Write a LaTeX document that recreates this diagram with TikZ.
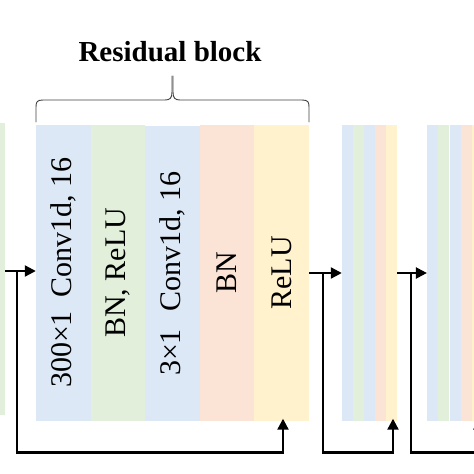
\documentclass[tikz,border=0pt]{standalone}
\usepackage{fontspec}
\setmainfont{Liberation Serif}
\usetikzlibrary{arrows.meta,calc}
\definecolor{cblue}{HTML}{DCE8F6}
\definecolor{cgreen}{HTML}{E2EFDA}
\definecolor{corange}{HTML}{FBE4D6}
\definecolor{cyellow}{HTML}{FFF2CC}
\begin{document}
\begin{tikzpicture}[x=1pt,y=-1pt,
  strip/.style={rectangle, inner sep=0pt, draw=none, rotate=90,
    minimum width=295.5pt, font=\fontsize{30}{31}\selectfont},
  bigstrip/.style={strip, minimum height=54.6pt},
  thinstrip/.style={strip, minimum height=11pt},
  arr/.style={line width=2.2pt, -{Triangle[length=11pt,width=11pt]}},
  bracestyle/.style={line width=0.9pt, draw=black!75, line cap=round}]
\useasboundingbox (0,0) rectangle (474,474);
\clip (0,0) rectangle (474,474);
% previous block (cut off at left)
\node[strip, fill=cgreen, minimum width=292pt, minimum height=55pt] (prev) at (-22.5,269) {};
% residual block
\node[bigstrip, fill=cblue]   (m1) at (63.3,272.75)  {300×1\hspace{0.45em}Conv1d, 16};
\node[bigstrip, fill=cgreen]  (m2) at (117.9,272.75) {BN, ReLU};
\node[bigstrip, fill=cblue]   (m3) at (172.5,273.5) {3×1\hspace{0.6em}Conv1d, 16};
\node[bigstrip, fill=corange] (m4) at (227.1,272.75) {BN};
\node[bigstrip, fill=cyellow] (m5) at (281.7,272.75) {ReLU};
% second block
\node[thinstrip, fill=cblue]   (a1) at (347.5,272.75) {};
\node[thinstrip, fill=cgreen]  (a2) at (358.5,272.75) {};
\node[thinstrip, fill=cblue]   (a3) at (369.5,272.75) {};
\node[thinstrip, fill=corange] (a4) at (380.5,272.75) {};
\node[thinstrip, fill=cyellow] (a5) at (391.5,272.75) {};
% third block
\node[thinstrip, fill=cblue]   (b1) at (432.6,272.75) {};
\node[thinstrip, fill=cgreen]  (b2) at (443.8,272.75) {};
\node[thinstrip, fill=cblue]   (b3) at (455.0,272.75) {};
\node[thinstrip, fill=corange] (b4) at (466.2,272.75) {};
\node[thinstrip, fill=cyellow] (b5) at (477.4,272.75) {};
% title and brace
\node[font=\bfseries\fontsize{29}{30}\selectfont, inner sep=0pt] (title) at (170,52) {Residual block};
\draw[bracestyle] (36,122) -- (36,107) .. controls (36,102) and (37,100) .. (43,100)
  -- (165,100) .. controls (170,100) and (172,98) .. (172,92) -- (172,76);
\draw[bracestyle] (309,122) -- (309,107) .. controls (309,102) and (308,100) .. (302,100)
  -- (180,100) .. controls (175,100) and (173,98) .. (173,92) -- (173,76);
% connectors
\coordinate (y1) at (0,271);
\coordinate (y2) at (0,273);
\coordinate (j1) at (17,271);
\coordinate (j2) at (323,273);
\coordinate (j3) at (411,273);
\coordinate (low) at (0,452.5);
\draw[arr] (prev.south |- y1) -- (m1.north |- y1);
\draw[arr] (m5.south |- y2) -- (a1.north |- y2);
\draw[arr] (a5.south |- y2) -- (b1.north |- y2);
\draw[arr] (j1) -- (j1 |- low) -| ([xshift=1.3pt,yshift=2pt]m5.west);
\draw[arr] (j2) -- (j2 |- low) -| ([xshift=1.5pt,yshift=2pt]a5.west);
\draw[arr] (j3) -- (j3 |- low) -| ([xshift=1.5pt,yshift=2pt]b5.west);
\end{tikzpicture}
\end{document}
